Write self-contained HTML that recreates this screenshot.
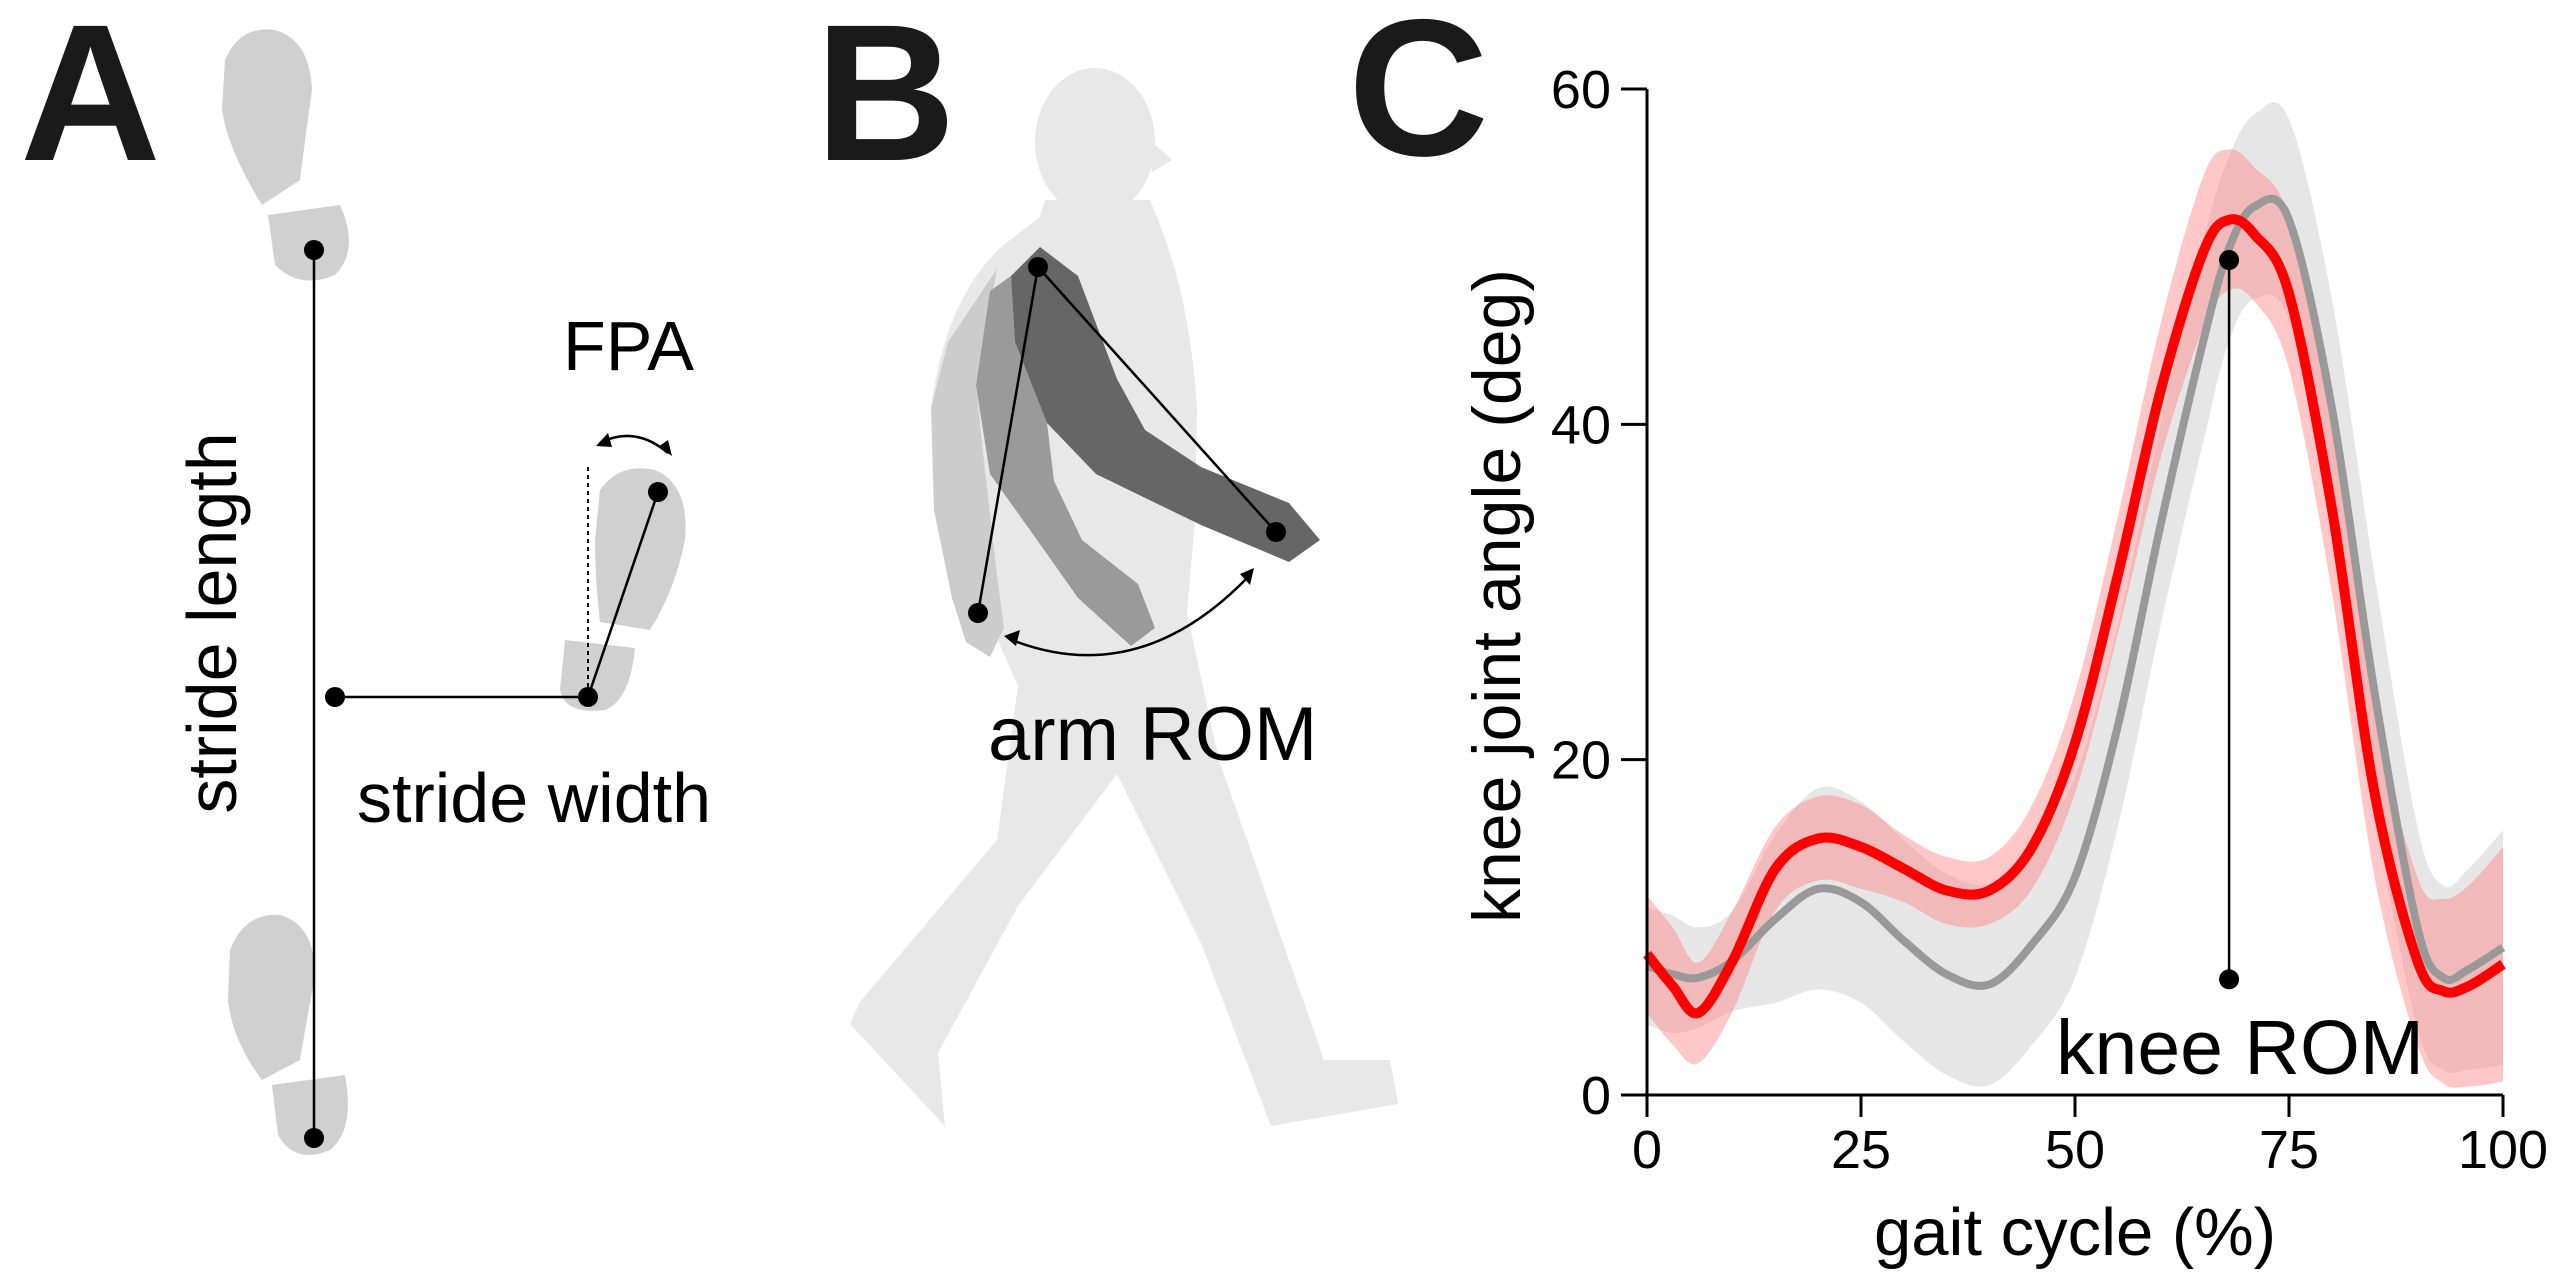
<!DOCTYPE html>
<html><head><meta charset="utf-8"><style>
html,body{margin:0;padding:0;background:#fff;}
svg{display:block;font-family:"Liberation Sans",sans-serif;}
</style></head><body>
<svg id="fig" width="2556" height="1285" viewBox="0 0 2556 1285" xmlns="http://www.w3.org/2000/svg">
<g>
 <text x="20" y="160" font-size="195" font-weight="bold" fill="#1a1a1a">A</text>
 <g fill="#d0d0d0">
  <path d="M225 60 Q240 25 275 30 Q310 40 312 90 Q305 140 300 180 L262 205 Q228 150 222 110 Z"/>
  <path d="M268 215 L340 205 Q360 250 335 275 Q300 290 275 265 Z"/>
  <path d="M230 950 Q245 912 280 915 Q315 925 315 975 Q305 1030 300 1060 L262 1080 Q232 1040 228 1000 Z"/>
  <path d="M272 1085 L345 1075 Q355 1130 330 1150 Q295 1165 278 1135 Z"/>
  <path d="M600 490 Q620 462 655 470 Q690 485 685 540 Q675 590 650 630 L600 622 Q595 580 595 540 Z"/>
  <path d="M565 640 L635 648 Q630 700 605 710 Q565 715 560 690 Z"/>
 </g>
 <line x1="314" y1="250" x2="314" y2="1138" stroke="#000" stroke-width="2.5"/>
 <circle cx="314" cy="250" r="10"/>
 <circle cx="314" cy="1138" r="10"/>
 <line x1="335" y1="697" x2="588" y2="697" stroke="#000" stroke-width="2.5"/>
 <circle cx="335" cy="697" r="10"/>
 <circle cx="588" cy="697" r="10"/>
 <line x1="588" y1="697" x2="658" y2="492" stroke="#000" stroke-width="2.5"/>
 <circle cx="658" cy="492" r="10"/>
 <line x1="588" y1="467" x2="588" y2="697" stroke="#000" stroke-width="2" stroke-dasharray="4 4"/>
 <path d="M600 443 Q635 425 668 453" fill="none" stroke="#000" stroke-width="2.5"/>
 <path d="M596 446 L608 433 L612 447 Z M672 456 L658 447 L668 440 Z" fill="#000"/>
 <text x="563" y="370" font-size="70">FPA</text>
 <text x="236" y="623" font-size="70" text-anchor="middle" transform="rotate(-90 236 623)">stride length</text>
 <text x="357" y="822" font-size="70">stride width</text>
</g>
<g>
 <text x="815" y="160" font-size="195" font-weight="bold" fill="#1a1a1a">B</text>
 <g fill="#e8e8e8">
  <ellipse cx="1095" cy="142" rx="60" ry="74"/>
  <path d="M1150 140 L1172 160 L1152 172 Z"/>
  <path d="M1045 200 L1150 200 L1159 222 Q1190 300 1197 408 L1195 520 L1187 613 L1219 760 L1324 1060 L1390 1060 L1398 1104 L1271 1126 L1201 943 L1117 774 L1018 906 L938 1053 L945 1126 L850 1024 L860 1002 L997 840 L1018 686 L980 600 L931 408 Q945 300 1001 247 L1040 217 Z"/>
 </g>
 <path d="M997 269 L948 342 L931 408 L934 510 L952 598 L966 642 L990 657 L1004 628 L997 576 L983 452 L976 386 Z" fill="#cccccc"/>
 <path d="M976 386 L990 291 L1011 276 L1015 342 L1047 423 L1054 481 L1082 540 L1138 584 L1155 628 L1131 646 L1078 598 L1047 554 L990 474 Z" fill="#9a9a9a"/>
 <path d="M1011 276 L1040 247 L1078 276 L1117 379 L1145 430 L1201 467 L1289 503 L1320 540 L1289 562 L1201 525 L1096 474 L1047 423 L1015 342 Z" fill="#666"/>
 <line x1="1038" y1="267" x2="978" y2="613" stroke="#000" stroke-width="2.5"/>
 <line x1="1038" y1="267" x2="1276" y2="532" stroke="#000" stroke-width="2.5"/>
 <circle cx="1038" cy="267" r="10"/>
 <circle cx="978" cy="613" r="10"/>
 <circle cx="1276" cy="532" r="10"/>
 <path d="M1012 640 Q1140 690 1250 575" fill="none" stroke="#000" stroke-width="2.5"/>
 <path d="M1004 636 L1020 630 L1016 646 Z M1254 568 L1250 585 L1240 574 Z" fill="#000"/>
 <text x="988" y="760" font-size="76">arm ROM</text>
</g>
<g>
 <text x="1348" y="155" font-size="195" font-weight="bold" fill="#1a1a1a">C</text>
 <g id="plot"></g>
</g>
</svg>
<script>
const xs = [0,3,6,10,15,20,25,30,35,40,45,50,55,60,65,68,71,75,80,85,90,93,96,100];
const redMean = [8.4,6.5,4.9,8,13.5,15.3,14.8,13.5,12.2,12.2,14.8,21,31,42,50.3,52.2,51.3,47.8,35,18,8,6.2,6.5,7.8];
const redSd = [3.5,3.5,3,3,2.5,2.5,2.5,2,2,2,2.5,3,3.5,4,4.5,4.2,4,4.5,5,5,5,5.5,6,7];
const grayMean = [7.7,7.2,7,8,10.5,12.3,11.5,9.2,7.2,6.6,9,13,22,34,45,50.5,53,52.2,41,24,10,7,7.5,8.8];
const graySd = [3.5,3.5,3,3,5,6,6,6,6,6,6,6,6,6,6,5.5,5.5,6,6.5,7,6,5.5,6,7];
const xTicks = [0,25,50,75,100];
const yTicks = [0,20,40,60];
const romX = 68, romTop = 49.8, romBottom = 6.9;

const X0=1647, X1=2503, Y0=1095, Y1=89;
const sx = v => X0 + (v/100)*(X1-X0);
const sy = v => Y0 - (v/60)*(Y0-Y1);
const NS = "http://www.w3.org/2000/svg";
const plot = document.getElementById('plot');
function mk(tag, attrs){const e=document.createElementNS(NS,tag);for(const k in attrs)e.setAttribute(k,attrs[k]);plot.appendChild(e);return e;}
function smooth(pts){
  let d=`M${pts[0][0]},${pts[0][1]}`;
  for(let i=0;i<pts.length-1;i++){
    const p0=pts[Math.max(0,i-1)],p1=pts[i],p2=pts[i+1],p3=pts[Math.min(pts.length-1,i+2)];
    const c1=[p1[0]+(p2[0]-p0[0])/6,p1[1]+(p2[1]-p0[1])/6];
    const c2=[p2[0]-(p3[0]-p1[0])/6,p2[1]-(p3[1]-p1[1])/6];
    d+=` C${c1[0]},${c1[1]} ${c2[0]},${c2[1]} ${p2[0]},${p2[1]}`;
  }
  return d;
}
function band(mean,sd,fill,name){
  const up=xs.map((x,i)=>[sx(x),sy(mean[i]+sd[i])]);
  const lo=xs.map((x,i)=>[sx(x),sy(Math.max(0,mean[i]-sd[i]))]).reverse();
  const d=smooth(up)+' L'+smooth(lo).slice(1)+' Z';
  const e=mk('path',{d:d,fill:fill});
  
  
}
band(grayMean,graySd,'#e6e6e6','control-sd-band');
band(redMean,redSd,'rgba(255,130,130,0.45)','patient-sd-band');
let gl=mk('path',{d:smooth(xs.map((x,i)=>[sx(x),sy(grayMean[i])])),fill:'none',stroke:'#999','stroke-width':8});


let rl=mk('path',{d:smooth(xs.map((x,i)=>[sx(x),sy(redMean[i])])),fill:'none',stroke:'#ff0000','stroke-width':10});


let rline=mk('line',{x1:sx(romX),x2:sx(romX),y1:sy(romTop),y2:sy(romBottom),stroke:'#000','stroke-width':2.5});


mk('circle',{cx:sx(romX),cy:sy(romTop),r:10});
mk('circle',{cx:sx(romX),cy:sy(romBottom),r:10});
let rt=mk('text',{x:2056,y:1074,'font-size':77});
rt.textContent='knee ROM';


let ya=mk('line',{x1:X0,x2:X0,y1:Y1,y2:Y0,stroke:'#000','stroke-width':3});


let xa=mk('line',{x1:X0,x2:X1,y1:Y0,y2:Y0,stroke:'#000','stroke-width':3});


yTicks.forEach(v=>{
  mk('line',{x1:X0-26,x2:X0,y1:sy(v),y2:sy(v),stroke:'#000','stroke-width':3});
  const t=mk('text',{x:X0-36,y:sy(v)+19,'font-size':54,'text-anchor':'end'});
  t.textContent=v;
  
  
});
xTicks.forEach(v=>{
  mk('line',{x1:sx(v),x2:sx(v),y1:Y0,y2:Y0+22,stroke:'#000','stroke-width':3});
  const t=mk('text',{x:sx(v),y:1168,'font-size':54,'text-anchor':'middle'});
  t.textContent=v;
  
  
});
let xt=mk('text',{x:2075,y:1255,'font-size':67,'text-anchor':'middle'});
xt.textContent='gait cycle (%)';


let yt=mk('text',{x:1520,y:596,'font-size':68,'text-anchor':'middle',transform:'rotate(-90 1520 596)'});
yt.textContent='knee joint angle (deg)';


</script>
</body></html>
